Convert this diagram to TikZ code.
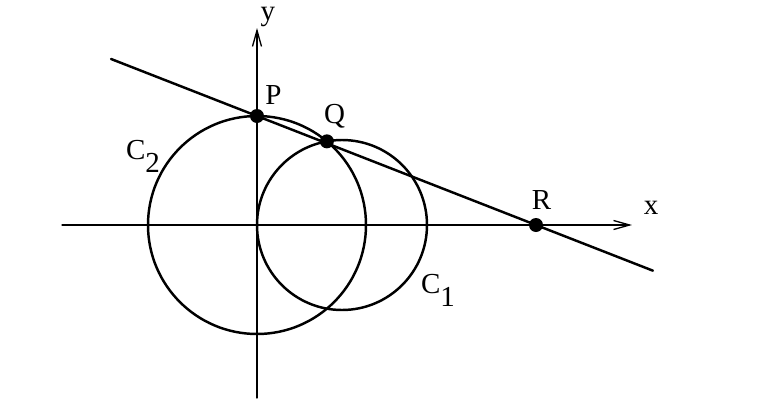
\documentclass[tikz,border=0pt]{standalone}
\usepackage{fontspec}
\setmainfont{Liberation Serif}
\usetikzlibrary{calc,arrows.meta}
\begin{document}
\begin{tikzpicture}[line cap=round, line join=round, font=\fontsize{16.5}{19}\selectfont, >={Straight Barb[length=3.2mm,width=1.8mm]}]
	\tikzset{thick line/.style={line width=1.4pt}, axis line/.style={line width=0.75pt}}
	\useasboundingbox (-5.14,-3.66) rectangle (10.06,4.5);
	\coordinate (O) at (0,0);
	\coordinate (P) at (0,2.18);
	\coordinate (Q) at (1.398,1.673);
	\coordinate (R) at (5.58,0);
	\coordinate (C1c) at (1.7,0);
	\draw[axis line, ->] (-3.9,0)--(7.5,0) coordinate (xend);
	\draw[axis line, ->] (0,-3.46)--(0,3.94) coordinate (yend);
	\node (xlab) at (7.88,0.34) {x};
	\node (ylab) at (0.22,4.16) {y};
	\draw[thick line] (O) circle (2.18);
	\draw[thick line] (C1c) circle (1.7);
	\draw[thick line] ($(P)!-0.523!(R)$)--($(P)!1.419!(R)$);
	\fill (P) circle (0.14) (Q) circle (0.14) (R) circle (0.14);
	\node (Plab) at (0.33,2.59) {P};
	\node (Qlab) at (1.55,2.18) {Q};
	\node (Rlab) at (5.69,0.49) {R};
	\node (C1lab) at (3.62,-1.3) {C\raisebox{-7.5pt}{1}};
	\node (C2lab) at (-2.28,1.38) {C\raisebox{-7.5pt}{2}};
\end{tikzpicture}
\end{document}
